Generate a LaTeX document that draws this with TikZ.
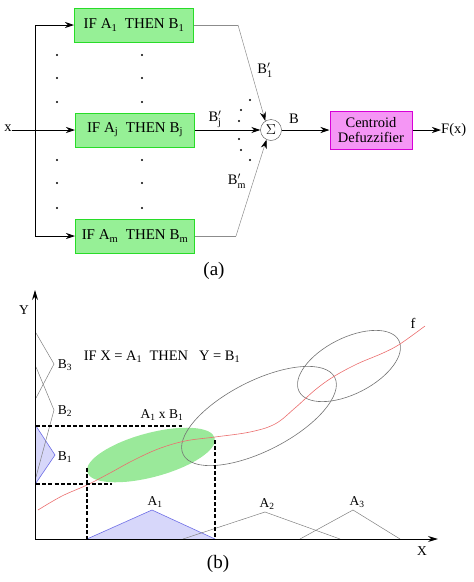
\documentclass[tikz,border=0pt]{standalone}
\usepackage{amsmath}
\usepackage{fontspec}
\setmainfont{Liberation Serif}
\usetikzlibrary{arrows.meta,shapes.geometric}
\definecolor{boxgreen}{RGB}{150,240,150}
\definecolor{edgegreen}{RGB}{40,220,40}
\definecolor{boxpink}{RGB}{245,150,245}
\definecolor{edgepink}{RGB}{215,0,215}
\definecolor{triblue}{RGB}{215,215,250}
\definecolor{edgeblue}{RGB}{110,110,230}
\definecolor{ellgreen}{RGB}{120,225,120}
\definecolor{curvered}{RGB}{235,110,110}
\newcommand{\lo}[1]{$_{\text{#1}}$}
\newcommand{\lp}[1]{$'_{\text{#1}}$}
\begin{document}
\begin{tikzpicture}[x=1pt,y=-1pt,
  txt/.style={inner sep=0pt,font=\fontsize{14.5}{16}\selectfont},
  smalltxt/.style={inner sep=0pt,font=\fontsize{13.5}{15}\selectfont},
  captxt/.style={inner sep=0pt,font=\fontsize{19}{21}\selectfont},
  rulebox/.style={draw=edgegreen,fill=boxgreen,line width=1pt,minimum width=119pt,minimum height=34pt,inner sep=0pt,font=\fontsize{15}{16}\selectfont},
  defbox/.style={draw=edgepink,fill=boxpink,line width=1pt,minimum width=82pt,minimum height=38pt,inner sep=0pt,align=center,font=\fontsize{14.5}{15}\selectfont},
  sumnode/.style={circle,draw=black!70,fill=white,minimum size=21pt,inner sep=0pt,font=\fontsize{15}{15}\selectfont},
  arr/.style={line width=0.8pt,-{Stealth[length=9pt,width=6pt]}},
  garr/.style={draw=black!45,line width=0.5pt,-{Stealth[length=9pt,width=6pt,color=black]}},
  gline/.style={draw=black!45,line width=0.5pt},
  dotmark/.style={circle,fill=black,inner sep=0pt,minimum size=2.4pt},
  dashline/.style={line width=1.6pt,dash pattern=on 4pt off 2.2pt},
  tri/.style={draw=black!50,line width=0.5pt}
]
\useasboundingbox (0,0) rectangle (474,582);
% ---------- (a) ----------
\node[rulebox] (r1) at (134,25) {IF A\lo{1}\ \ THEN B\lo{1}};
\node[rulebox] (rj) at (135,130) {IF A\lo{j}\ \ THEN B\lo{j}};
\node[rulebox] (rm) at (135,236) {IF A\lo{m}\ \ THEN B\lo{m}};
\node[txt] (x) at (8,128) {x};
\coordinate (split) at (35,130);
\coordinate (top) at (35,25);
\coordinate (bot) at (35,236);
\draw[line width=0.8pt] (x.east |- split) -- (split);
\draw[arr] (split) -- (rj.west);
\draw[line width=0.8pt] (top) -- (bot);
\draw[arr] (top) -- (r1.west);
\draw[arr] (bot) -- (rm.west);
\foreach \yy in {55,78,102,160,183,208}{
  \node[dotmark] at (57,\yy) {};
  \node[dotmark] at (142,\yy) {};
}
\node[sumnode] (sum) at (271,130) {$\Sigma$};
\coordinate (k1) at (238,25);
\coordinate (km) at (236,236);
\draw[gline] (r1.east) -- (k1);
\draw[garr] (k1) -- (sum.122);
\draw[arr] (rj.east) -- (sum.west);
\draw[gline] (rm.east) -- (km);
\draw[garr] (km) -- (sum.245);
\node[txt] (lb1) at (265,70) {B\lp{1}};
\node[txt] (lbj) at (215,119) {B\lp{j}};
\node[txt] (lbm) at (237,181) {B\lp{m}};
\foreach \px/\py in {250/100,241/110,239/121,239/139,241/150,250/160}{
  \node[dotmark] at (\px,\py) {};
}
\node[defbox] (def) at (371,130) {Centroid\\Defuzzifier};
\draw[arr] (sum.east) -- (def.west);
\node[txt] (lb) at (294,119) {B};
\node[txt,anchor=west] (fx) at (441,130) {F(x)};
\draw[arr] (def.east) -- (fx.west);
\node[captxt] (capa) at (214,271) {(a)};
% ---------- (b) ----------
\fill[triblue] (87,539) -- (152,510) -- (215,539) -- cycle;
\draw[draw=edgeblue,line width=0.6pt] (87,539) -- (152,510) -- (215,539);
\draw[tri] (183,539) -- (265,512) -- (340,539);
\draw[tri] (300,539) -- (353,510) -- (400,539);
\node[smalltxt] (la1) at (155,502) {A\lo{1}};
\node[smalltxt] (la2) at (267,504) {A\lo{2}};
\node[smalltxt] (la3) at (357,502) {A\lo{3}};
\fill[triblue] (36,426) -- (55,455) -- (36,483) -- cycle;
\draw[draw=edgeblue,line width=0.6pt] (36,426) -- (55,455) -- (36,483);
\draw[tri] (36,333) -- (54,364) -- (36,398);
\draw[tri] (36,367) -- (54,410) -- (36,477);
\node[smalltxt] (lb3) at (65,365) {B\lo{3}};
\node[smalltxt] (lb2) at (65,411) {B\lo{2}};
\node[smalltxt] (lb1b) at (65,457) {B\lo{1}};
\fill[ellgreen,fill opacity=0.75] [rotate around={15:(151,455)}] (151,455) ellipse (66 and 22);
\draw[draw=black!55,line width=0.6pt] [rotate around={27:(259,416)}] (259,416) ellipse (85 and 35);
\draw[draw=black!55,line width=0.6pt] [rotate around={27:(349,366)}] (349,366) ellipse (56 and 28);
\draw[curvered,line width=0.6pt] plot[smooth,tension=0.6] coordinates {(38,510) (62,496) (87,485) (110,473) (132,461) (158,449) (185,441) (215,437) (250,432) (275,424) (295,408) (315,390) (333,377) (357,364) (383,353) (400,344) (425,326)};
\node[txt] (lf) at (413,323) {f};
\draw[dashline] (36,426) -- (182,426);
\draw[dashline] (215,440) -- (215,539);
\draw[dashline] (36,484) -- (112,484);
\draw[dashline] (87,468) -- (87,539);
\node[smalltxt] (lab) at (162,415) {A\lo{1} x B\lo{1}};
\coordinate (orig) at (35,539);
\coordinate (ytip) at (35,290);
\coordinate (xtip) at (438,539);
\draw[line width=1pt,-{Stealth[length=10pt,width=6pt]}] (orig) -- (ytip);
\draw[line width=1pt,-{Stealth[length=10pt,width=6pt]}] (orig) -- (xtip);
\node[smalltxt] (ly) at (24,310) {Y};
\node[smalltxt] (lx) at (422,551) {X};
\node[txt] (rule) at (162,357) {IF\ X = A\lo{1}\ \ THEN\ \ \ Y = B\lo{1}};
\node[captxt] (capb) at (218,564) {(b)};
\end{tikzpicture}
\end{document}
